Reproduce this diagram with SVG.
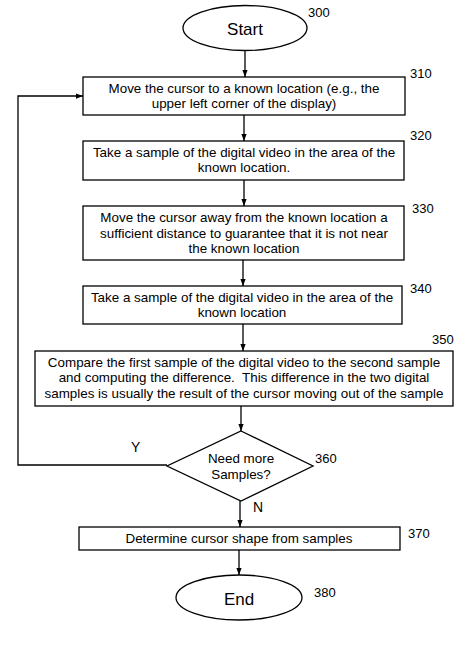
<svg xmlns="http://www.w3.org/2000/svg" width="474" height="649" viewBox="0 0 474 649">
<style>
.s{fill:#fff;stroke:#000;stroke-width:1.3}
.c{fill:none;stroke:#000;stroke-width:1.3}
text{font-family:"Liberation Sans",Arial,sans-serif;fill:#000}
.t{font-size:13.4px;text-anchor:middle;white-space:pre}
.b{font-size:17px;text-anchor:middle}
.n{font-size:13px}
</style>
<defs>
<marker id="a" viewBox="0 0 8 8" refX="8" refY="4" markerWidth="7" markerHeight="7" markerUnits="userSpaceOnUse" orient="auto">
<path d="M0,1 L8,4 L0,7 Z" fill="#000"/>
</marker>
</defs>
<rect width="474" height="649" fill="#fff"/>
<g id="connectors">
<line class="c" x1="245" y1="50" x2="245" y2="77" marker-end="url(#a)"/>
<line class="c" x1="244" y1="115" x2="244" y2="141" marker-end="url(#a)"/>
<line class="c" x1="244" y1="180" x2="244" y2="206" marker-end="url(#a)"/>
<line class="c" x1="243" y1="260" x2="243" y2="286" marker-end="url(#a)"/>
<line class="c" x1="243" y1="324" x2="243" y2="351" marker-end="url(#a)"/>
<line class="c" x1="241" y1="406" x2="241" y2="431" marker-end="url(#a)"/>
<line class="c" x1="240" y1="501" x2="240" y2="527" marker-end="url(#a)"/>
<line class="c" x1="239" y1="550" x2="239" y2="575" marker-end="url(#a)"/>
<polyline class="c" points="167,465 18,465 18,96 83,96" marker-end="url(#a)"/>
<text class="n" x="131" y="452" style="font-size:14px">Y</text>
<text class="n" x="253" y="512" style="font-size:14px">N</text>
</g>
<g id="n300">
<ellipse class="s" cx="245" cy="28" rx="62" ry="22.5"/>
<text class="b" x="245" y="35">Start</text>
<text class="n" x="308" y="17">300</text>
</g>
<g id="n310">
<rect class="s" x="83" y="77" width="322" height="38"/>
<text class="t" x="244" y="93">Move the cursor to a known location (e.g., the</text>
<text class="t" x="244" y="108">upper left corner of the display)</text>
<text class="n" x="410" y="78">310</text>
</g>
<g id="n320">
<rect class="s" x="83" y="141" width="321" height="39"/>
<text class="t" x="244" y="157">Take a sample of the digital video in the area of the</text>
<text class="t" x="244" y="172">known location.</text>
<text class="n" x="410" y="140">320</text>
</g>
<g id="n330">
<rect class="s" x="83" y="206" width="321" height="54"/>
<text class="t" x="244" y="222">Move the cursor away from the known location a</text>
<text class="t" x="244" y="238">sufficient distance to guarantee that it is not near</text>
<text class="t" x="244" y="253">the known location</text>
<text class="n" x="412" y="213">330</text>
</g>
<g id="n340">
<rect class="s" x="83" y="286" width="319" height="38"/>
<text class="t" x="242" y="302">Take a sample of the digital video in the area of the</text>
<text class="t" x="242" y="317">known location</text>
<text class="n" x="410" y="293">340</text>
</g>
<g id="n350">
<rect class="s" x="35" y="351" width="418" height="55"/>
<text class="t" x="244" y="367">Compare the first sample of the digital video to the second sample</text>
<text class="t" x="244" y="382">and computing the difference.  This difference in the two digital</text>
<text class="t" x="244" y="398">samples is usually the result of the cursor moving out of the sample</text>
<text class="n" x="432" y="344">350</text>
</g>
<g id="n360">
<polygon class="s" points="241,431 313,466 241,501 167,466"/>
<text class="t" x="241" y="463">Need more</text>
<text class="t" x="241" y="479">Samples?</text>
<text class="n" x="315" y="463">360</text>
</g>
<g id="n370">
<rect class="s" x="79" y="527" width="321" height="23"/>
<text class="t" x="239" y="543">Determine cursor shape from samples</text>
<text class="n" x="408" y="538">370</text>
</g>
<g id="n380">
<ellipse class="s" cx="239" cy="597.5" rx="63" ry="22.5"/>
<text class="b" x="239" y="605">End</text>
<text class="n" x="314" y="597">380</text>
</g>
</svg>
